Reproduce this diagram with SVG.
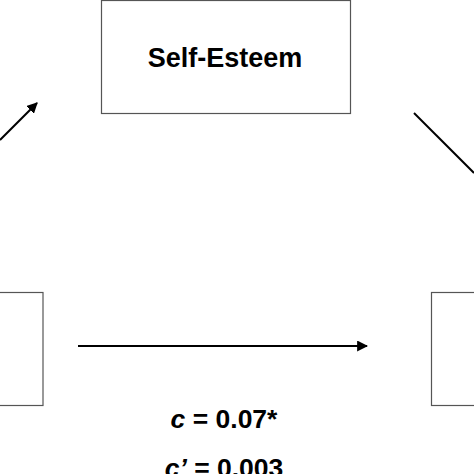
<svg xmlns="http://www.w3.org/2000/svg" width="474" height="474" viewBox="0 0 474 474">
<style>
.box{fill:#fff;stroke:#555;stroke-width:1.2}
.lbl{font-family:"Liberation Sans",Arial,sans-serif;font-weight:bold;fill:#000;text-anchor:middle}
.conn{stroke:#000;stroke-width:2;fill:none}
</style>
<defs>
<marker id="ah" viewBox="0 0 10 10" refX="9" refY="5" markerWidth="5.5" markerHeight="5.5" markerUnits="strokeWidth" orient="auto">
<path d="M0,0 L10,5 L0,10 z" fill="#000"/>
</marker>
</defs>
<rect width="474" height="474" fill="#fff"/>
<g id="self-esteem">
<rect class="box" x="101.5" y="0.5" width="249" height="113"/>
<text class="lbl" x="225" y="67" font-size="27">Self-Esteem</text>
</g>
<g id="left-node">
<rect class="box" x="-10" y="292.5" width="53" height="113"/>
</g>
<g id="right-node">
<rect class="box" x="431.5" y="292.5" width="60" height="113"/>
</g>
<g id="connectors">
<line class="conn" x1="0" y1="140" x2="37" y2="103" marker-end="url(#ah)"/>
<line class="conn" x1="414" y1="113" x2="474" y2="173"/>
<line class="conn" x1="78" y1="346" x2="367" y2="346" marker-end="url(#ah)"/>
</g>
<text class="lbl" x="224" y="428" font-size="26.5"><tspan font-style="italic">c</tspan> = 0.07*</text>
<text class="lbl" x="224" y="477" font-size="26.5"><tspan font-style="italic">c’</tspan> = 0.003</text>
</svg>
